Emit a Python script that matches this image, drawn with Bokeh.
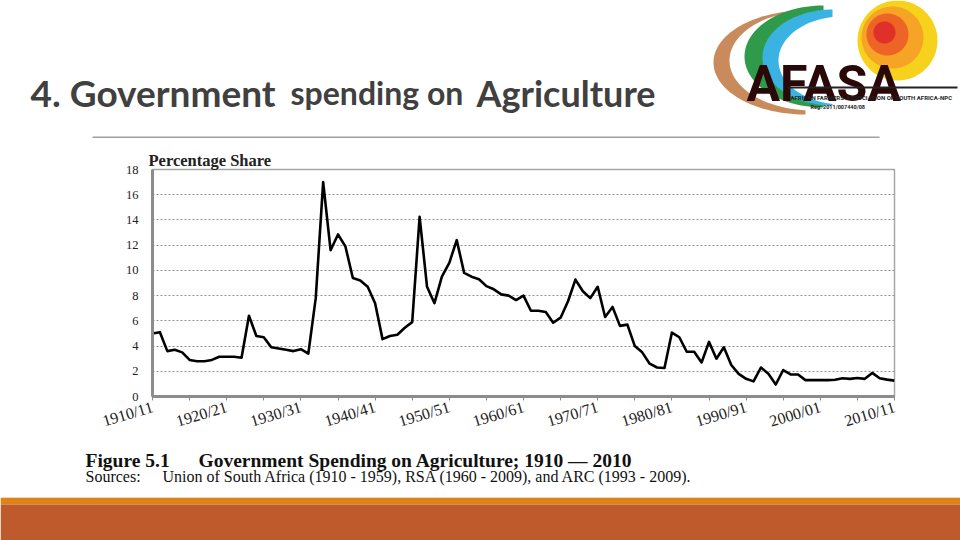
import numpy as np
from bokeh.plotting import figure
from bokeh.models import Range1d, FixedTicker
from bokeh.core.properties import value
from bokeh.embed import file_html
from bokeh.resources import INLINE

# ---------------- data ----------------
years = list(range(1910, 2011))
share = [
    5.0, 5.1, 3.6, 3.7, 3.5, 2.9, 2.8, 2.8, 2.9, 3.15,   # 1910-1919
    3.15, 3.15, 3.07, 6.4, 4.8, 4.7, 3.9, 3.8, 3.7, 3.6,  # 1920-1929
    3.75, 3.4, 7.8, 17.0, 11.6, 12.85, 11.9, 9.4, 9.2, 8.7,  # 1930-1939
    7.4, 4.55, 4.8, 4.9, 5.45, 5.9, 14.25, 8.7, 7.4, 9.5,  # 1940-1949
    10.6, 12.4, 9.8, 9.5, 9.3, 8.75, 8.5, 8.1, 8.0, 7.65,  # 1950-1959
    8.0, 6.8, 6.8, 6.7, 5.85, 6.25, 7.55, 9.27, 8.35, 7.8,  # 1960-1969
    8.7, 6.3, 7.1, 5.6, 5.7, 4.0, 3.5, 2.6, 2.3, 2.26,    # 1970-1979
    5.07, 4.7, 3.55, 3.55, 2.7, 4.33, 3.0, 3.9, 2.5, 1.8,  # 1980-1989
    1.4, 1.2, 2.3, 1.8, 0.95, 2.1, 1.75, 1.75, 1.3, 1.3,   # 1990-1999
    1.3, 1.3, 1.33, 1.45, 1.4, 1.47, 1.4, 1.87, 1.45, 1.34,  # 2000-2009
    1.26,                                                  # 2010
]
tick_years = list(range(1910, 2011, 5))
label_years = list(range(1910, 2011, 10))
tick_labels = ["1910/11", "1920/21", "1930/31", "1940/41", "1950/51", "1960/61",
               "1970/71", "1980/81", "1990/91", "2000/01", "2010/11"]
y_ticks = list(range(0, 19, 2))

title_parts = ["4.  Government", "spending on", "Agriculture"]
y_title = "Percentage Share"
caption_fig = "Figure 5.1"
caption_title = "Government Spending on Agriculture; 1910 \u2014 2010"
caption_src_head = "Sources:"
caption_src = "Union of South Africa (1910 - 1959), RSA (1960 - 2009), and ARC (1993 - 2009)."

serif = "Liberation Serif"


def blank(h, y0, y1):
    f = figure(width=960, height=h, x_range=Range1d(0, 960), y_range=Range1d(y1, y0),
               x_axis_type=None, y_axis_type=None, output_backend="svg", toolbar_location=None,
               min_border=0)
    f.outline_line_color = None
    f.xgrid.visible = False
    f.ygrid.visible = False
    f.background_fill_color = "white"
    f.border_fill_color = "white"
    return f


def txt(f, x, y, text, font, size, color="#404040", style="normal"):
    f.text(x=[x], y=[y], text=[text], text_font=value(font), text_font_size=value(size),
           text_color=color, text_font_style=style, text_align="left", text_baseline="alphabetic")


def half_ellipse(f, cx, cy, rx, ry, color):
    t = np.linspace(np.pi / 2, 3 * np.pi / 2, 60)
    f.patch(cx + rx * np.cos(t), cy - ry * np.sin(t), fill_color=color, line_color=None)


def disc(f, cx, cy, r, color):
    t = np.linspace(0, 2 * np.pi, 80)
    f.patch(cx + r * np.cos(t), cy + r * np.sin(t), fill_color=color, line_color=None)


# ---------------- top strip: slide title + logo ----------------
top = blank(145, 0, 145)
txt(top, 30, 92, title_parts[0], "Lato", "37px", style="bold")
txt(top, 290, 92, title_parts[1], "Lato", "32px", style="bold")
txt(top, 476, 92, title_parts[2], "Lato", "36px", style="bold")
top.quad(left=[92], right=[879], top=[136], bottom=[137.5], fill_color="#a0a0a0", line_color=None)

disc(top, 897, 40, 40, "#F6D21C")
disc(top, 892, 37, 31, "#F5A426")
disc(top, 887, 34, 21, "#EE6326")
disc(top, 884, 32, 11, "#E0302A")
half_ellipse(top, 805, 62, 92, 52, "#C98A5C")
half_ellipse(top, 812, 60, 83, 50, "white")
half_ellipse(top, 823, 56, 79, 51, "#2F9A4A")
half_ellipse(top, 832, 57, 70, 48, "#3AB2E2")
half_ellipse(top, 842, 60, 64, 44, "white")
txt(top, 746, 83, "AFASA", "Roboto", "50px", color="#2a0808", style="bold")
top.quad(left=[788], right=[957], top=[86], bottom=[88], fill_color="#222222", line_color=None)
txt(top, 790, 97, "AFRICAN FARMERS' ASSOCIATION OF SOUTH AFRICA-NPC", "Roboto", "6px",
    color="#222222", style="bold")
txt(top, 810, 106, "Reg: 2011/007440/08", "Roboto", "5.5px", color="#222222", style="bold")

# ---------------- chart ----------------
p = figure(width=960, height=295, x_range=Range1d(1910, 2010), y_range=Range1d(0, 18),
           output_backend="svg", toolbar_location=None,
           min_border_left=152, min_border_right=66, min_border_top=24, min_border_bottom=42,
           title=y_title)
p.background_fill_color = "white"
p.border_fill_color = "white"
p.outline_line_color = "#a6a6a6"
p.outline_line_width = 1.5
p.title.text_font = serif
p.title.text_font_size = "16.5px"
p.title.text_font_style = "bold"
p.title.text_color = "#222222"
p.title.align = "left"
p.title.offset = -4
p.title.standoff = 0

p.line(years, share, line_color="black", line_width=2.6, line_join="round")

p.xgrid.visible = False
p.ygrid.ticker = FixedTicker(ticks=y_ticks)
p.ygrid.grid_line_color = "#909090"
p.ygrid.grid_line_dash = "2 2"
p.ygrid.grid_line_width = 1

for ax in p.yaxis:
    ax.ticker = FixedTicker(ticks=y_ticks)
    ax.axis_line_color = "#8c8c8c"
    ax.axis_line_width = 3
    ax.major_tick_out = 0
    ax.major_tick_in = 0
    ax.minor_tick_out = 0
    ax.minor_tick_in = 0
    ax.major_label_standoff = 14
    ax.major_label_text_font = serif
    ax.major_label_text_font_size = "12.5px"
    ax.major_label_text_color = "#222222"

overrides = {y: "" for y in tick_years}
for y, lab in zip(label_years, tick_labels):
    overrides[y] = lab
for ax in p.xaxis:
    ax.ticker = FixedTicker(ticks=tick_years)
    ax.major_label_overrides = overrides
    ax.axis_line_color = "#8c8c8c"
    ax.axis_line_width = 3
    ax.major_tick_out = 4
    ax.major_tick_in = 0
    ax.major_tick_line_color = "#8c8c8c"
    ax.minor_tick_out = 0
    ax.minor_tick_in = 0
    ax.major_label_orientation = 0.29
    ax.major_label_standoff = 6
    ax.major_label_text_font = serif
    ax.major_label_text_font_size = "16px"
    ax.major_label_text_color = "#222222"

# ---------------- bottom strip: caption + bands ----------------
bot = blank(100, 440, 540)
txt(bot, 85, 460, caption_fig, serif, "19.5px", color="#111111", style="bold")
txt(bot, 198, 460, caption_title, serif, "19.5px", color="#111111", style="bold")
txt(bot, 85, 476, caption_src_head, serif, "16px", color="#111111")
txt(bot, 162, 476, caption_src, serif, "16px", color="#111111")
bot.quad(left=[0], right=[960], top=[496.5], bottom=[497.5], fill_color="#F3D9B0", line_color=None)
bot.quad(left=[0], right=[960], top=[497.5], bottom=[504], fill_color="#E0821A", line_color=None)
bot.quad(left=[0], right=[960], top=[504], bottom=[540], fill_color="#BE5A2C", line_color=None)

open("out.html", "w").write(file_html([top, p, bot], INLINE))
